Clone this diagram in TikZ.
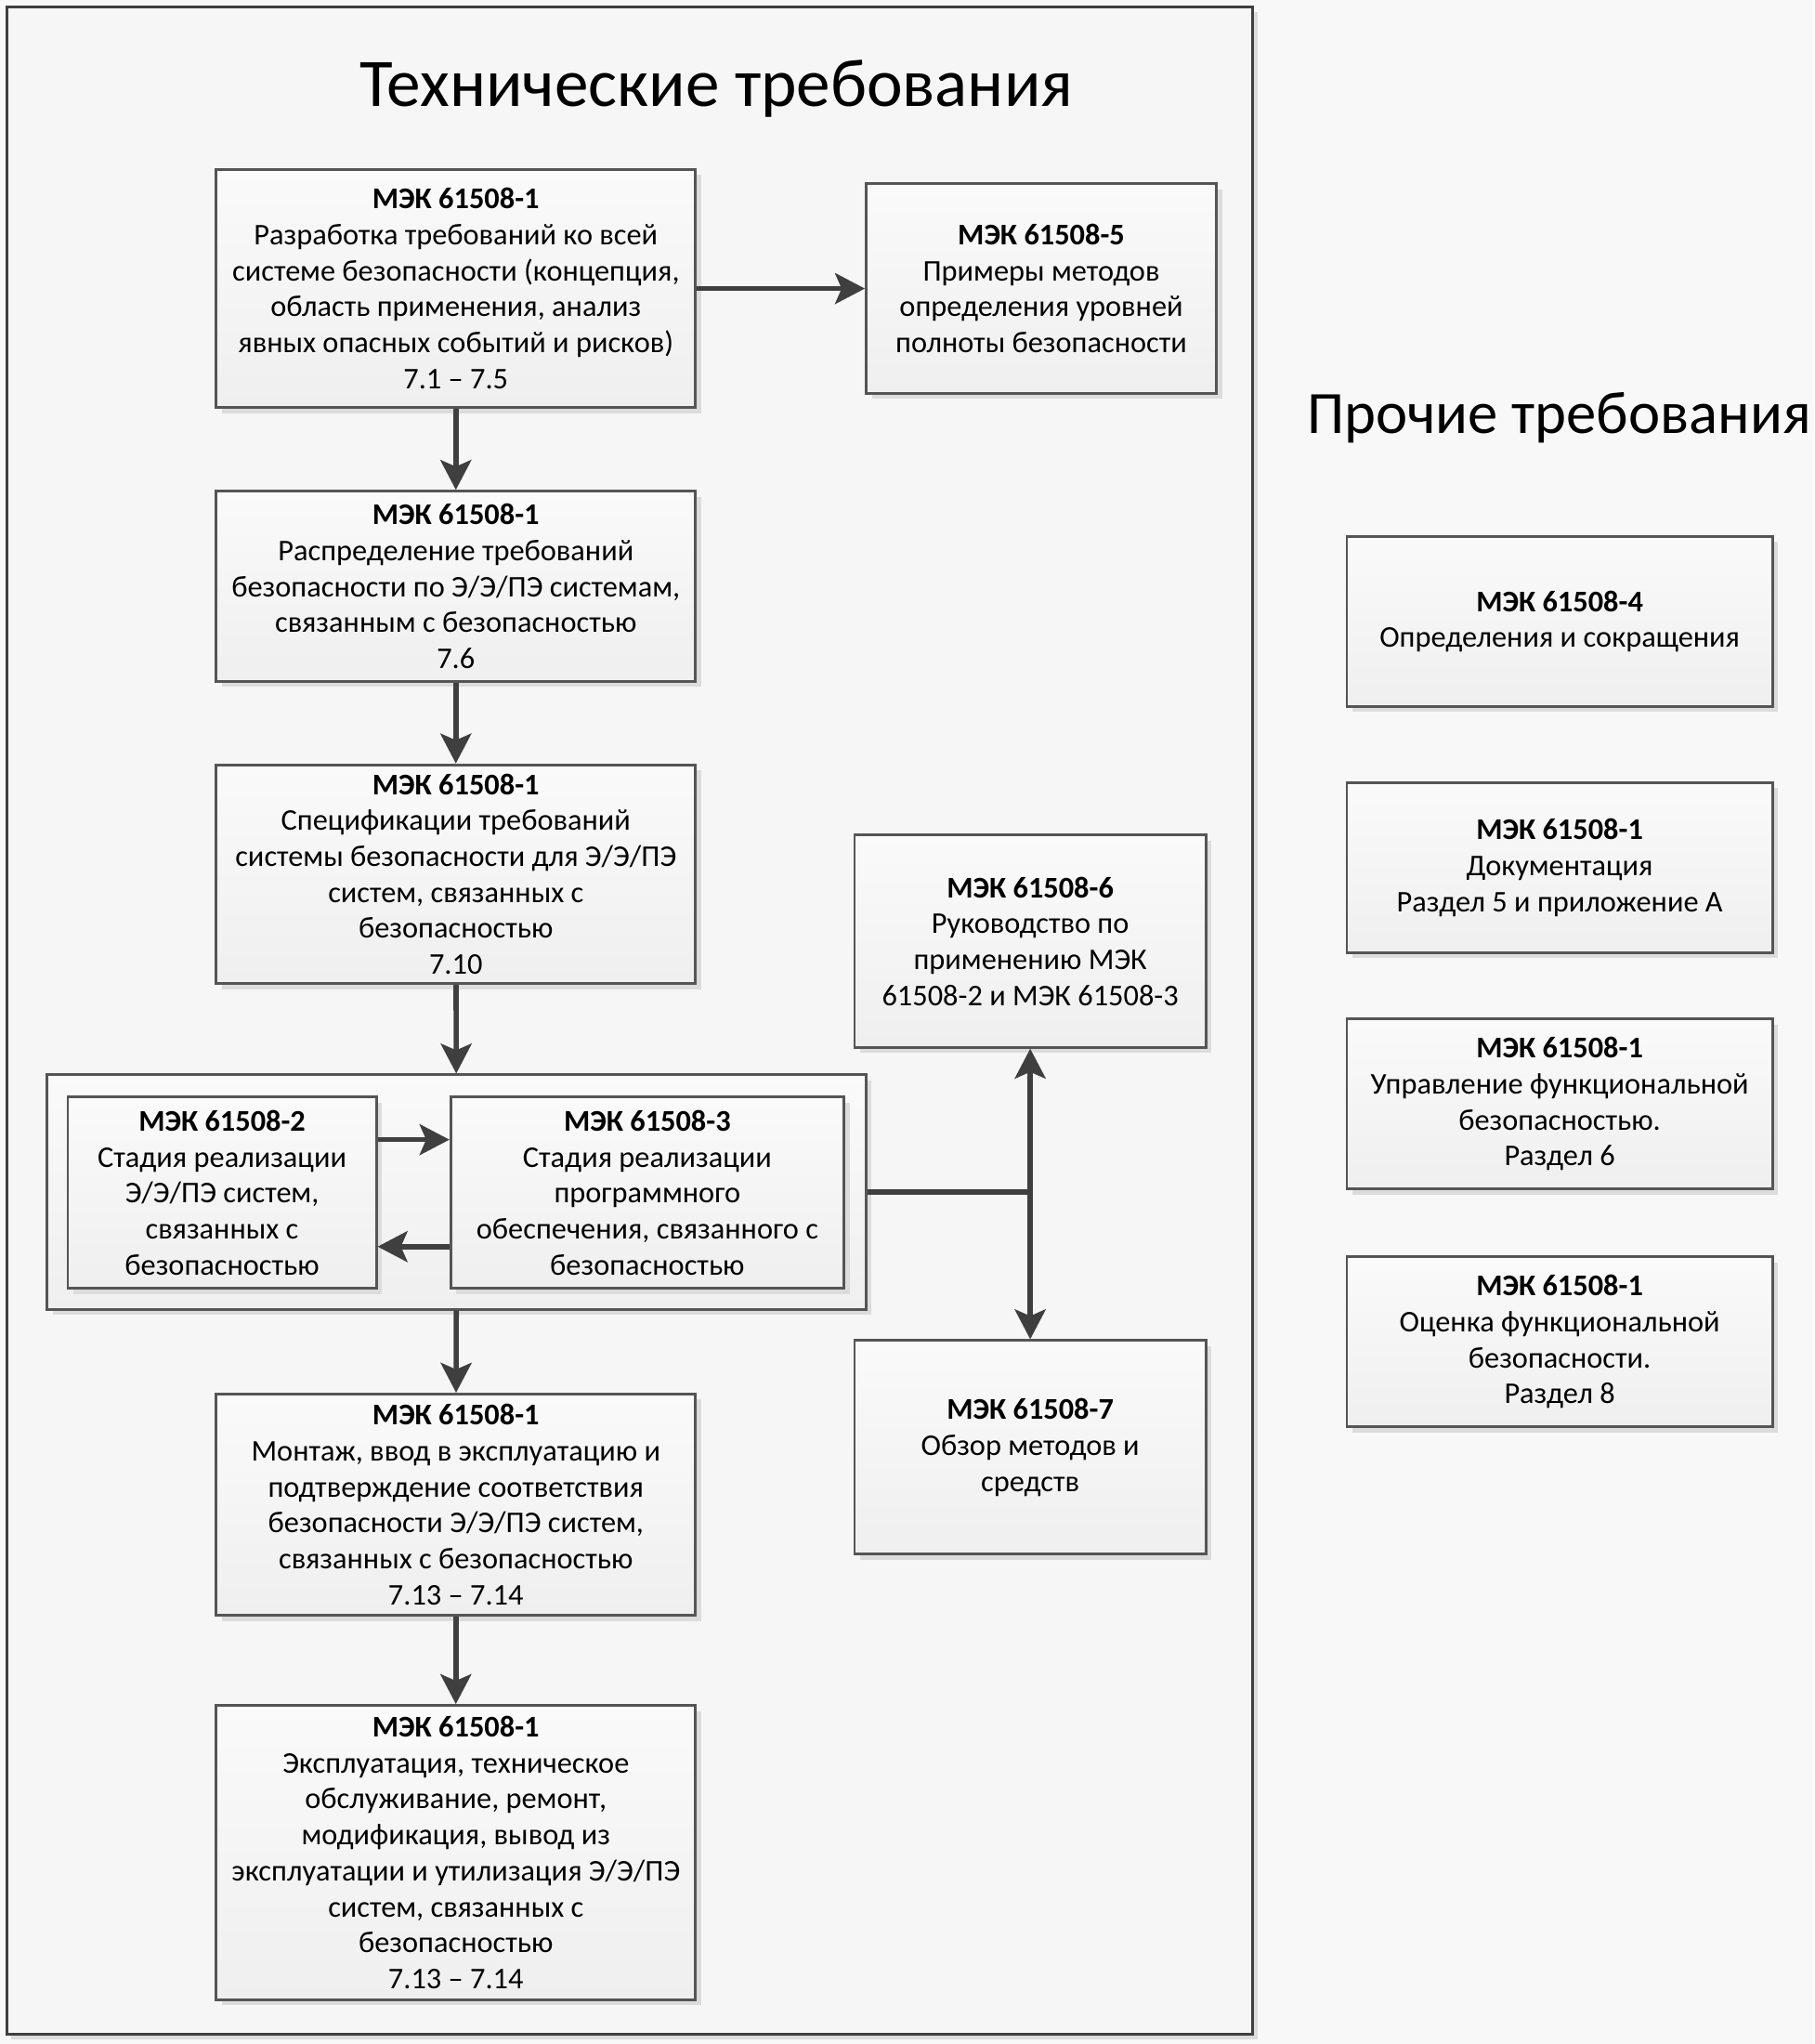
\documentclass[tikz,border=0pt]{standalone}
\usepackage{fontspec}
\setmainfont{Carlito}
\usetikzlibrary{arrows.meta, shadows}

\definecolor{pagebg}{HTML}{F8F8F8}
\definecolor{framefill}{HTML}{F6F6F6}
\definecolor{boxline}{HTML}{555555}
\definecolor{boxtop}{HTML}{FAFAFA}
\definecolor{boxbot}{HTML}{EFEFEF}
\definecolor{shadowc}{HTML}{DCDCDC}
\definecolor{linec}{HTML}{3F3F3F}

\tikzset{
  stdbox/.style={draw=boxline, line width=0.8pt, top color=boxtop, bottom color=boxbot,
    drop shadow={shadow xshift=0.06cm, shadow yshift=-0.06cm, fill=shadowc, opacity=1},
    align=center, inner sep=0pt, font=\fontsize{9.2}{11}\selectfont},
  wide/.style={minimum width=5.152cm},
  link/.style={draw=linec, line width=1.6pt, -{Stealth[length=0.32cm, width=0.33cm, inset=0.07cm]}},
  plain/.style={draw=linec, line width=1.6pt}
}

\begin{document}
\begin{tikzpicture}[x=0.014cm, y=-0.014cm]
\fill[pagebg] (0,0) rectangle (1393,1569);
\useasboundingbox (0,0) rectangle (1393,1569);

% panels
\node[draw=linec, line width=1pt, fill=framefill, minimum width=13.398cm, minimum height=21.798cm,
  drop shadow={shadow xshift=0.05cm, shadow yshift=-0.05cm, fill=shadowc, opacity=1}] (tech) at (483.5,783.5) {};
\node[font=\fontsize{20.8}{24}\selectfont] (techtitle) at (550,68) {Технические требования};
\node[font=\fontsize{18.4}{22}\selectfont] (othtitle) at (1197,321) {Прочие требования};

% main column
\node[stdbox, wide, minimum height=2.562cm] (a) at (350,221.5) {\textbf{МЭК 61508-1}\\Разработка требований ко всей\\системе безопасности (концепция,\\область применения, анализ\\явных опасных событий и рисков)\\7.1 – 7.5};
\node[stdbox, minimum width=3.766cm, minimum height=2.254cm] (m5) at (799.5,221.5) {\textbf{МЭК 61508-5}\\Примеры методов\\определения уровней\\полноты безопасности};
\node[stdbox, wide, minimum height=2.044cm] (b) at (350,450) {\textbf{МЭК 61508-1}\\Распределение требований\\безопасности по Э/Э/ПЭ системам,\\связанным с безопасностью\\7.6};
\node[stdbox, wide, minimum height=2.352cm] (c) at (350,671) {\textbf{МЭК 61508-1}\\Спецификации требований\\системы безопасности для Э/Э/ПЭ\\систем, связанных с\\безопасностью\\7.10};

\node[stdbox, minimum width=8.806cm, minimum height=2.52cm] (grp) at (350.5,915) {};
\node[stdbox, minimum width=3.318cm, minimum height=2.058cm] (d2) at (170.5,915.5) {\textbf{МЭК 61508-2}\\Стадия реализации\\Э/Э/ПЭ систем,\\связанных с\\безопасностью};
\node[stdbox, minimum width=4.228cm, minimum height=2.058cm] (d3) at (497,915.5) {\textbf{МЭК 61508-3}\\Стадия реализации\\программного\\обеспечения, связанного с\\безопасностью};

\node[stdbox, minimum width=3.78cm, minimum height=2.282cm] (m6) at (791,722.5) {\textbf{МЭК 61508-6}\\Руководство по\\применению МЭК\\61508-2 и МЭК 61508-3};
\node[stdbox, minimum width=3.78cm, minimum height=2.296cm] (m7) at (791,1111) {\textbf{МЭК 61508-7}\\Обзор методов и\\средств};

\node[stdbox, wide, minimum height=2.38cm] (e) at (350,1155) {\textbf{МЭК 61508-1}\\Монтаж, ввод в эксплуатацию и\\подтверждение соответствия\\безопасности Э/Э/ПЭ систем,\\связанных с безопасностью\\7.13 – 7.14};
\node[stdbox, wide, minimum height=3.164cm] (f) at (350,1422) {\textbf{МЭК 61508-1}\\Эксплуатация, техническое\\обслуживание, ремонт,\\модификация, вывод из\\эксплуатации и утилизация Э/Э/ПЭ\\систем, связанных с\\безопасностью\\7.13 – 7.14};

% other requirements
\node[stdbox, minimum width=4.578cm, minimum height=1.827cm] (r1) at (1197.5,477) {\textbf{МЭК 61508-4}\\Определения и сокращения};
\node[stdbox, minimum width=4.578cm, minimum height=1.827cm] (r2) at (1197.5,666) {\textbf{МЭК 61508-1}\\Документация\\Раздел 5 и приложение А};
\node[stdbox, minimum width=4.578cm, minimum height=1.827cm] (r3) at (1197.5,847.5) {\textbf{МЭК 61508-1}\\Управление функциональной\\безопасностью.\\Раздел 6};
\node[stdbox, minimum width=4.578cm, minimum height=1.827cm] (r4) at (1197.5,1030) {\textbf{МЭК 61508-1}\\Оценка функциональной\\безопасности.\\Раздел 8};

% arrows
\draw[link] (a) -- (m5);
\draw[link] (a) -- (b);
\draw[link] (b) -- (c);
\draw[link] (c) -- (grp);
\draw[link] ([yshift=0.57cm]d2.east) -- ([yshift=0.57cm]d3.west);
\draw[link] ([yshift=-0.58cm]d3.west) -- ([yshift=-0.58cm]d2.east);
\draw[link] (grp) -- (e);
\draw[link] (e) -- (f);
\coordinate (jn) at (m6.south |- grp.east);
\draw[plain] (grp.east) -- (jn);
\draw[link] (jn) -- (m6.south);
\draw[link] (jn) -- (m7.north);
\end{tikzpicture}
\end{document}
